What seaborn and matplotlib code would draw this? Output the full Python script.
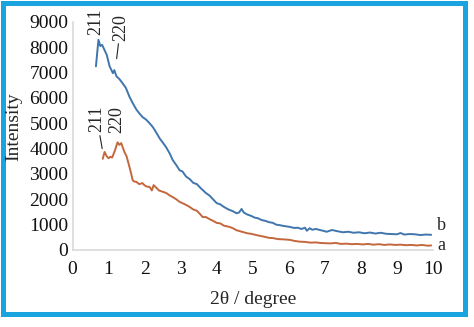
import matplotlib
matplotlib.use("Agg")
import matplotlib.pyplot as plt
import seaborn as sns
import pandas as pd
from matplotlib.patches import Rectangle

# ---- data ----
x_b = [0.65, 0.72, 0.77, 0.82, 0.87, 0.95, 1.03, 1.08, 1.12, 1.16, 1.22, 1.30, 1.39, 1.48, 1.58,
       1.67, 1.77, 1.85, 1.94, 2.04, 2.14, 2.23, 2.33, 2.42, 2.50, 2.60, 2.70, 2.78, 2.88, 2.97,
       3.05, 3.15, 3.25, 3.35, 3.45, 3.55, 3.61, 3.70, 3.80, 3.90, 4.00, 4.10, 4.20, 4.30, 4.36,
       4.45, 4.55, 4.62, 4.69, 4.75, 4.85, 4.95, 5.05, 5.15, 5.25, 5.35, 5.45, 5.56, 5.65, 5.75,
       5.85, 5.95, 6.03, 6.15, 6.25, 6.35, 6.45, 6.50, 6.58, 6.65, 6.75, 6.86, 6.95, 7.05, 7.20,
       7.35, 7.50, 7.65, 7.80, 7.95, 8.10, 8.25, 8.40, 8.55, 8.70, 8.85, 9.00, 9.10, 9.20, 9.35,
       9.50, 9.65, 9.80, 9.95]
y_b = [7250, 8300, 8050, 8100, 7950, 7700, 7250, 7100, 6980, 7100, 6850, 6750, 6580, 6400, 6050,
       5800, 5550, 5400, 5250, 5150, 5000, 4850, 4620, 4400, 4250, 4050, 3800, 3550, 3350, 3150,
       3100, 2900, 2800, 2650, 2600, 2450, 2370, 2250, 2150, 2000, 1850, 1800, 1700, 1620, 1580,
       1530, 1450, 1480, 1620, 1480, 1400, 1350, 1280, 1250, 1180, 1150, 1100, 1070, 1000, 980,
       950, 930, 910, 870, 880, 830, 880, 760, 860, 800, 830, 790, 760, 720, 790,
       740, 700, 720, 680, 700, 660, 690, 650, 680, 640, 630, 620, 670, 610, 630,
       620, 590, 610, 600]

x_a = [0.84, 0.89, 0.95, 1.00, 1.05, 1.10, 1.17, 1.25, 1.30, 1.35, 1.44, 1.50, 1.58, 1.63, 1.67,
       1.72, 1.77, 1.85, 1.94, 2.00, 2.07, 2.14, 2.20, 2.25, 2.33, 2.40, 2.50, 2.60, 2.70, 2.78,
       2.88, 2.97, 3.05, 3.15, 3.25, 3.35, 3.45, 3.55, 3.61, 3.70, 3.80, 3.90, 4.00, 4.10, 4.20,
       4.30, 4.36, 4.45, 4.55, 4.65, 4.75, 4.85, 4.95, 5.10, 5.20, 5.30, 5.45, 5.56, 5.70, 5.85,
       6.03, 6.15, 6.30, 6.45, 6.60, 6.75, 6.86, 7.00, 7.15, 7.30, 7.45, 7.60, 7.75, 7.90, 8.05,
       8.20, 8.35, 8.50, 8.65, 8.80, 8.95, 9.10, 9.25, 9.40, 9.55, 9.70, 9.85, 9.95]
y_a = [3600, 3870, 3700, 3620, 3680, 3650, 3900, 4250, 4150, 4220, 3870, 3700, 3280, 3000, 2750,
       2700, 2690, 2600, 2640, 2550, 2500, 2490, 2350, 2560, 2450, 2350, 2300, 2250, 2150, 2090,
       2000, 1900, 1850, 1780, 1700, 1600, 1550, 1400, 1300, 1300, 1220, 1150, 1070, 1050, 960,
       930, 910, 860, 780, 740, 700, 660, 640, 590, 560, 530, 480, 470, 430, 420,
       400, 360, 330, 320, 290, 300, 280, 270, 260, 280, 240, 250, 230, 240, 220,
       240, 210, 230, 200, 220, 200, 210, 190, 200, 180, 200, 170, 180]

x_ticks = [0, 1, 2, 3, 4, 5, 6, 7, 8, 9, 10]
y_ticks = [0, 1000, 2000, 3000, 4000, 5000, 6000, 7000, 8000, 9000]

df = pd.concat([
    pd.DataFrame({"x": x_b, "y": y_b, "s": "b"}),
    pd.DataFrame({"x": x_a, "y": y_a, "s": "a"}),
])

sns.set_style("white")
plt.rcParams["font.family"] = ["Liberation Serif", "DejaVu Serif"]

W, H = 474, 327
fig = plt.figure(figsize=(W / 100, H / 100), dpi=100)
ax = fig.add_axes([72.5 / W, (H - 250) / H, (433 - 72.5) / W, (250 - 22) / H])

sns.lineplot(data=df, x="x", y="y", hue="s", palette={"b": "#3f76ad", "a": "#c4673c"},
             linewidth=1.4, legend=False, ax=ax, sort=False, estimator=None)

ax.set_xlim(0, 10)
ax.set_ylim(0, 9000)
ax.set_xticks(x_ticks)
ax.set_yticks(y_ticks)
ax.set_xticklabels([str(t) for t in x_ticks])
ax.set_yticklabels([str(t) for t in y_ticks])
ax.tick_params(axis="both", length=0, labelsize=14, colors="#111111")
ax.tick_params(axis="x", pad=8)
ax.tick_params(axis="y", pad=3)
ax.set_xlabel("")
ax.set_ylabel("")
for side in ["top", "right"]:
    ax.spines[side].set_visible(False)
for side in ["left", "bottom"]:
    ax.spines[side].set_color("#d9d9d9")
    ax.spines[side].set_linewidth(1.2)

# peak annotations
ax.text(0.65, 8490, "211", rotation=90, ha="center", va="bottom", fontsize=13, clip_on=False)
ax.annotate("220", xy=(1.22, 7500), xytext=(1.33, 8800), rotation=90, ha="center", va="center",
            fontsize=13, annotation_clip=False,
            arrowprops=dict(arrowstyle="-", lw=0.8, color="#222222", shrinkA=0, shrinkB=1))
ax.annotate("211", xy=(0.83, 3950), xytext=(0.68, 5170), rotation=90, ha="center", va="center",
            fontsize=13, annotation_clip=False,
            arrowprops=dict(arrowstyle="-", lw=0.8, color="#222222", shrinkA=0, shrinkB=1))
ax.text(1.24, 5130, "220", rotation=90, ha="center", va="center", fontsize=13)

ax.text(10.11, 960, "b", ha="left", va="center", fontsize=13, clip_on=False)
ax.text(10.11, 180, "a", ha="left", va="center", fontsize=13, clip_on=False)

fig.text(14 / W, 1 - 127 / H, "Intensity", rotation=90, ha="center", va="center", fontsize=14)
fig.text(253 / W, 1 - 300 / H, "2θ / degree", ha="center", va="center", fontsize=14)

# blue frame
fig.patches.append(Rectangle((2.5 / W, (H - 313.5) / H), (464.5 - 2.5) / W, (313.5 - 2.5) / H,
                             transform=fig.transFigure, fill=False, edgecolor="#19a4e0",
                             linewidth=3.6))

fig.savefig("out.png", dpi=100)
